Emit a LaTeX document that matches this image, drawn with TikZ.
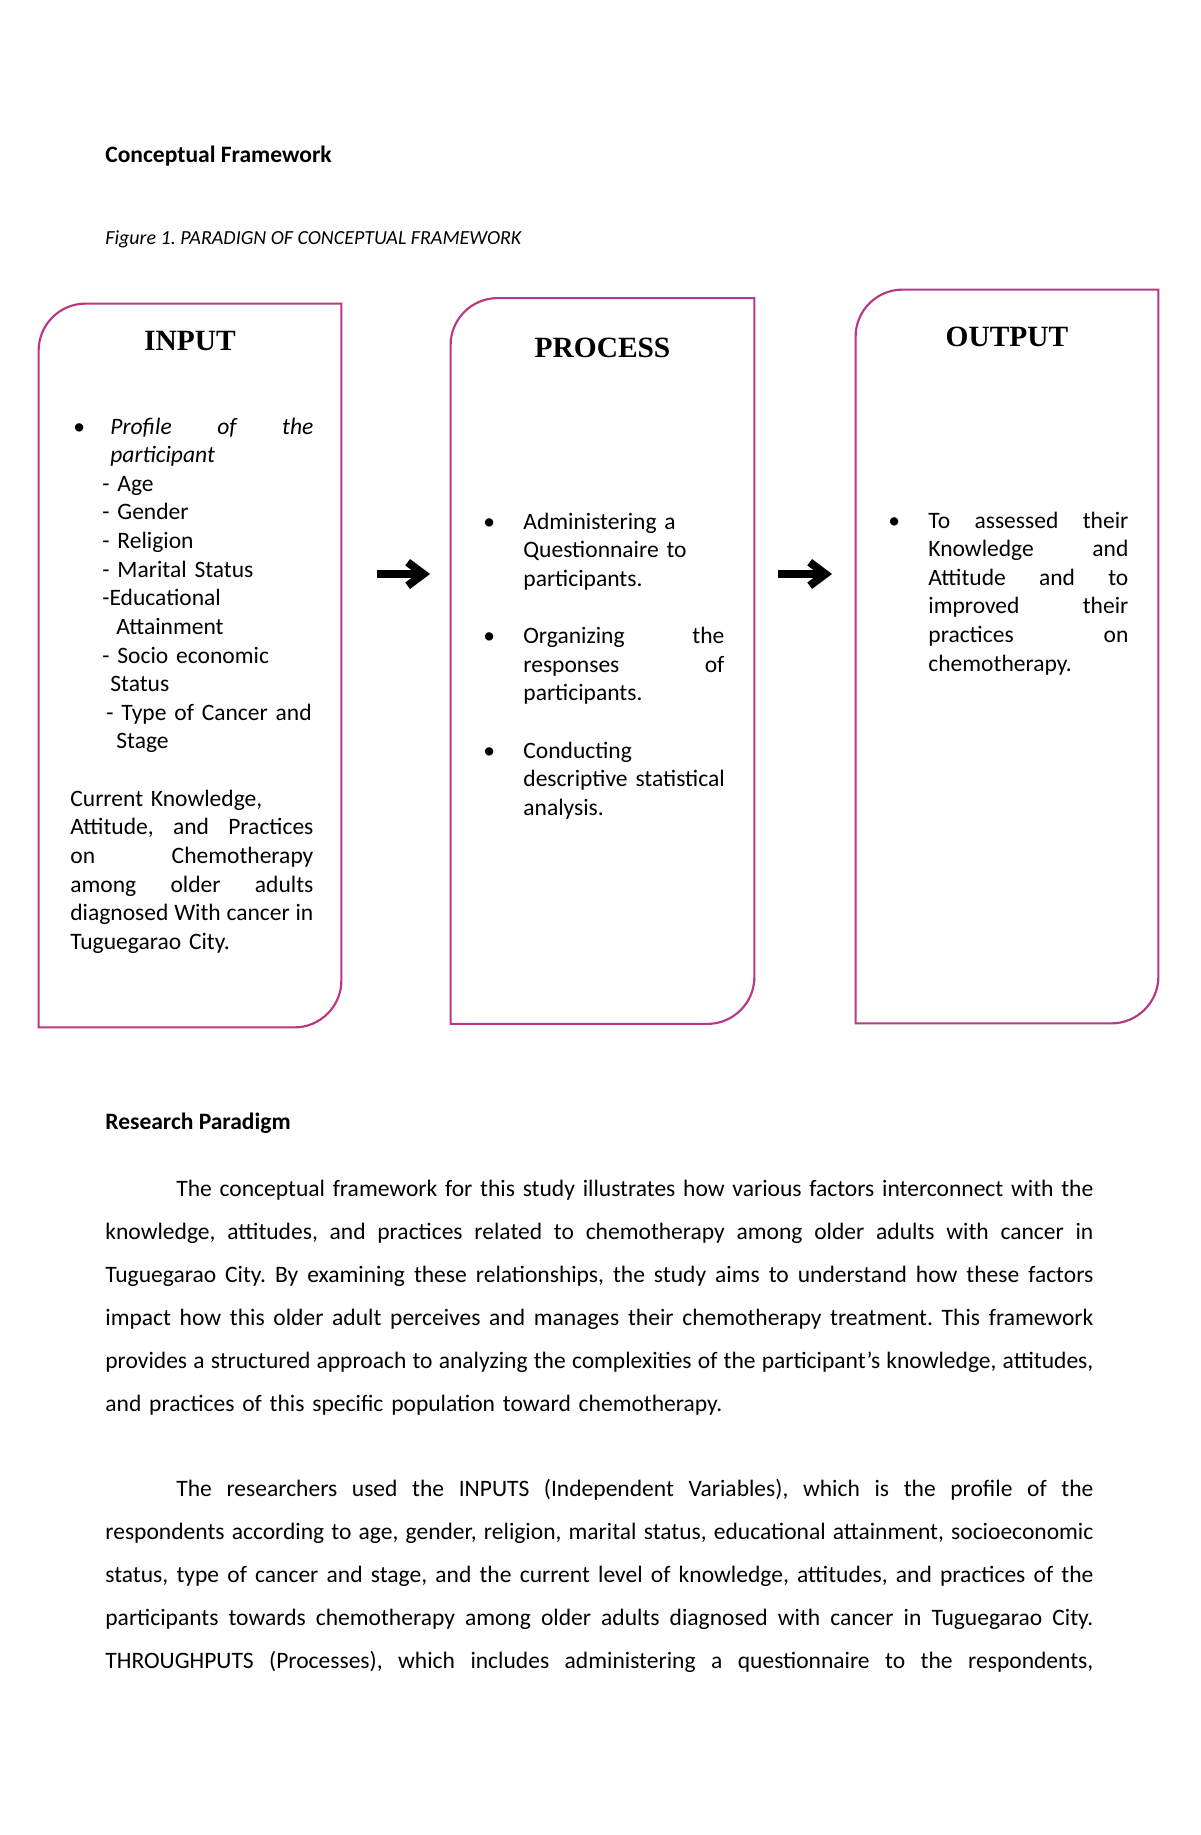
\documentclass[tikz,border=0pt]{standalone}
\usepackage{fontspec}
\setmainfont{Carlito}
\newfontfamily\headfont{Liberation Serif}
\usetikzlibrary{arrows.meta,positioning}
\definecolor{framepink}{RGB}{184,57,131}
\newlength{\pxu}
\setlength{\pxu}{0.51pt}
\frenchspacing
% one justified line of a given width
\newcommand{\jline}[2]{\leavevmode\hbox to #1{%
  \spaceskip=\fontdimen2\font plus 1fil minus 0.35\fontdimen2\font\relax #2}}
% frame with rounded top-left and bottom-right corners round a node
\newcommand{\paraframe}[1]{%
  \draw[frameline] (#1.south west) -- ([yshift=-47\pxu]#1.north west)
    arc[start angle=180, end angle=90, radius=47\pxu] -- (#1.north east)
    -- ([yshift=47\pxu]#1.south east)
    arc[start angle=0, end angle=-90, radius=47\pxu] -- cycle;}

\begin{document}
\begin{tikzpicture}[x=0.51pt, y=-0.51pt,
    framebox/.style={rectangle, inner sep=0pt, draw=none},
    frameline/.style={draw=framepink, line width=1.1pt},
    headlbl/.style={anchor=base, inner sep=0pt,
                    font=\headfont\bfseries\fontsize{15}{18}\selectfont},
    boxtext/.style={anchor=base west, inner sep=0pt, align=left,
                    text width=270\pxu, font=\fontsize{12}{14.6}\selectfont},
    bodytext/.style={anchor=base west, inner sep=0pt, align=left,
                     text width=1000\pxu, font=\fontsize{12}{21.93}\selectfont},
    bigarrow/.style={line width=8\pxu, -{Straight Barb[length=8pt,width=12pt]}}
  ]
  \useasboundingbox (0,0) rectangle (1200,1835);

  \node[anchor=base west, inner sep=0pt, font=\bfseries\fontsize{12}{14.6}\selectfont]
    (title) at (105,163) {Conceptual Framework};
  \node[anchor=base west, inner sep=0pt, font=\itshape\fontsize{10.2}{12}\selectfont]
    (caption) at (105,245) {Figure 1. PARADIGN OF CONCEPTUAL FRAMEWORK};

  % the three boxes
  \node[framebox, minimum width=302\pxu, minimum height=723\pxu] (inbox) at (190,665.5) {};
  \node[framebox, minimum width=303\pxu, minimum height=725\pxu] (procbox) at (602.5,661) {};
  \node[framebox, minimum width=302\pxu, minimum height=733\pxu] (outbox) at (1007,656.5) {};
  \paraframe{inbox}
  \paraframe{procbox}
  \paraframe{outbox}

  \node[headlbl] (inhead) at (190,351) {INPUT};
  \node[headlbl] (prochead) at (602.5,358) {PROCESS};
  \node[headlbl] (outhead) at (1007,347) {OUTPUT};

  \node[boxtext] (intext) at (70,434) {%
    \makebox[40\pxu][l]{\hspace{3\pxu}\textbullet}\jline{203\pxu}{\itshape Profile of the}\\
    \hspace*{40\pxu}\textit{participant}\\
    \hspace*{32\pxu}- Age\\
    \hspace*{32\pxu}- Gender\\
    \hspace*{32\pxu}- Religion\\
    \hspace*{32\pxu}- Marital Status\\
    \hspace*{32\pxu}-Educational\\
    \hspace*{46\pxu}Attainment\\
    \hspace*{32\pxu}- Socio economic\\
    \hspace*{40\pxu}Status\\
    \hspace*{36\pxu}- Type of Cancer and\\
    \hspace*{46\pxu}Stage\\[14.6pt]
    Current Knowledge,\\
    \jline{243\pxu}{Attitude, and Practices}\\
    \jline{243\pxu}{on Chemotherapy}\\
    \jline{243\pxu}{among older adults}\\
    \jline{243\pxu}{diagnosed With cancer in}\\
    Tuguegarao City.};

  \node[boxtext] (proctext) at (483,529) {%
    \makebox[40\pxu][l]{\textbullet}Administering a\\
    \hspace*{40\pxu}Questionnaire to\\
    \hspace*{40\pxu}participants.\\[14.6pt]
    \makebox[40\pxu][l]{\textbullet}\jline{201\pxu}{Organizing the}\\
    \hspace*{40\pxu}\jline{201\pxu}{responses of}\\
    \hspace*{40\pxu}participants.\\[14.6pt]
    \makebox[40\pxu][l]{\textbullet}Conducting\\
    \hspace*{40\pxu}descriptive statistical\\
    \hspace*{40\pxu}analysis.};

  \node[boxtext] (outtext) at (888,528) {%
    \makebox[40\pxu][l]{\textbullet}\jline{200\pxu}{To assessed their}\\
    \hspace*{40\pxu}\jline{200\pxu}{Knowledge and}\\
    \hspace*{40\pxu}\jline{200\pxu}{Attitude and to}\\
    \hspace*{40\pxu}\jline{200\pxu}{improved their}\\
    \hspace*{40\pxu}\jline{200\pxu}{practices on}\\
    \hspace*{40\pxu}chemotherapy.};

  % arrows between the boxes
  \coordinate (inarr) at (377,574);
  \coordinate (procarr) at (430,574);
  \coordinate (procout) at (778,574);
  \coordinate (outarr) at (832,574);
  \draw[bigarrow] (inarr) -- (procarr);
  \draw[bigarrow] (procout) -- (outarr);

  % text below the figure
  \node[anchor=base west, inner sep=0pt, font=\bfseries\fontsize{12}{14.6}\selectfont]
    (paradigm) at (105,1129) {Research Paradigm};
  \node[bodytext] (parone) at (105,1196) {%
    \hspace*{71\pxu}\jline{917\pxu}{The conceptual framework for this study illustrates how various factors interconnect with the}\\
    \jline{988\pxu}{knowledge, attitudes, and practices related to chemotherapy among older adults with cancer in}\\
    \jline{988\pxu}{Tuguegarao City. By examining these relationships, the study aims to understand how these factors}\\
    \jline{988\pxu}{impact how this older adult perceives and manages their chemotherapy treatment. This framework}\\
    \jline{988\pxu}{provides a structured approach to analyzing the complexities of the participant’s knowledge, attitudes,}\\
    and practices of this specific population toward chemotherapy.};
  \node[bodytext] (partwo) at (105,1496) {%
    \hspace*{71\pxu}\jline{917\pxu}{The researchers used the INPUTS (Independent Variables), which is the profile of the}\\
    \jline{988\pxu}{respondents according to age, gender, religion, marital status, educational attainment, socioeconomic}\\
    \jline{988\pxu}{status, type of cancer and stage, and the current level of knowledge, attitudes, and practices of the}\\
    \jline{988\pxu}{participants towards chemotherapy among older adults diagnosed with cancer in Tuguegarao City.}\\
    \jline{988\pxu}{THROUGHPUTS (Processes), which includes administering a questionnaire to the respondents,}};
\end{tikzpicture}
\end{document}
